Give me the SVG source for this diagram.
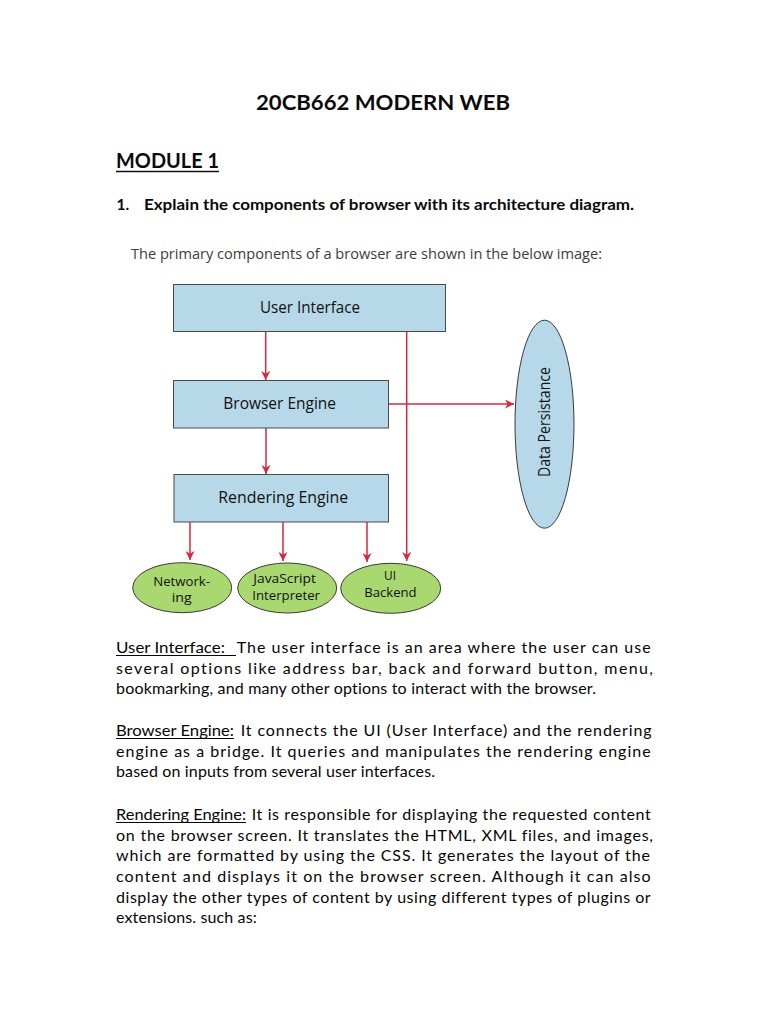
<svg xmlns="http://www.w3.org/2000/svg" width="768" height="1024" viewBox="0 0 768 1024">
<style>
text{font-variant-ligatures:none}
.h{font-family:Lato,"Open Sans","Liberation Sans",sans-serif;font-weight:bold;fill:#0a0a0a}
.b{font-family:Lato,"Open Sans","Liberation Sans",sans-serif;font-size:16px;fill:#050505}
.p{font-family:"Open Sans","Noto Sans","Liberation Sans",sans-serif;font-size:15px;fill:#3c3c3c}
.box{fill:#b6d8e8;stroke:#4a4a4a;stroke-width:1}
.ell{fill:#a9d770;stroke:#3a3a3a;stroke-width:1}
.ellb{fill:#b6d8e8;stroke:#3a3a3a;stroke-width:1}
.lbl{font-family:"Open Sans","Noto Sans","Liberation Sans",sans-serif;font-size:15.5px;fill:#111}
.sm{font-family:"Open Sans","Noto Sans","Liberation Sans",sans-serif;font-size:13px;fill:#111}
.c{stroke:#d7263d;stroke-width:1.5;fill:none}
.u{stroke:#050505;stroke-width:1}
</style>
<defs>
<marker id="ah" viewBox="0 0 10 10" refX="10" refY="5" markerWidth="9" markerHeight="9" markerUnits="userSpaceOnUse" orient="auto">
<path d="M0,0 L10,5 L0,10 L3,5 z" fill="#d7263d"/>
</marker>
</defs>
<rect width="768" height="1024" fill="#fff"/>

<g id="header">
<text class="h" x="256" y="110" font-size="20px" textLength="254" lengthAdjust="spacingAndGlyphs">20CB662 MODERN WEB</text>
<text class="h" x="116" y="168" font-size="20.5px" textLength="103" lengthAdjust="spacingAndGlyphs">MODULE 1</text>
<line x1="116" y1="171.5" x2="219" y2="171.5" stroke="#111" stroke-width="1.5"/>
<text class="h" x="116.5" y="210" font-size="15.5px">1.</text>
<text class="h" x="144" y="210" font-size="15.5px" textLength="490" lengthAdjust="spacingAndGlyphs">Explain the components of browser with its architecture diagram.</text>
<text class="p" x="131" y="259" textLength="471" lengthAdjust="spacingAndGlyphs">The primary components of a browser are shown in the below image:</text>
</g>

<g id="connectors">
<line class="c" x1="265.7" y1="332" x2="265.7" y2="380" marker-end="url(#ah)"/>
<line class="c" x1="266" y1="428" x2="266" y2="474" marker-end="url(#ah)"/>
<line class="c" x1="190" y1="522" x2="190" y2="560" marker-end="url(#ah)"/>
<line class="c" x1="283" y1="522" x2="283" y2="561" marker-end="url(#ah)"/>
<line class="c" x1="367" y1="522" x2="367" y2="562" marker-end="url(#ah)"/>
<line class="c" x1="406.7" y1="332" x2="406.7" y2="561" marker-end="url(#ah)"/>
<line class="c" x1="388" y1="404" x2="514" y2="404" marker-end="url(#ah)"/>
</g>

<g id="user-interface">
<rect class="box" x="173.5" y="284.5" width="272" height="47"/>
<text class="lbl" x="260" y="313.3" textLength="100" lengthAdjust="spacingAndGlyphs">User Interface</text>
</g>
<g id="browser-engine">
<rect class="box" x="173.5" y="380.5" width="215" height="47.5"/>
<text class="lbl" x="223.3" y="409.3" textLength="112.7" lengthAdjust="spacingAndGlyphs">Browser Engine</text>
</g>
<g id="rendering-engine">
<rect class="box" x="174" y="474.5" width="214.5" height="47.5"/>
<text class="lbl" x="218.3" y="502.7" textLength="130" lengthAdjust="spacingAndGlyphs">Rendering Engine</text>
</g>
<g id="data-persistance">
<ellipse class="ellb" cx="544.5" cy="424.2" rx="29.5" ry="104"/>
<text class="lbl" transform="translate(549.5,477) rotate(-90)" x="0" y="0" font-size="16.5px" textLength="110" lengthAdjust="spacingAndGlyphs">Data Persistance</text>
</g>
<g id="networking">
<ellipse class="ell" cx="182.2" cy="587.7" rx="49.5" ry="25"/>
<text class="sm" x="153.3" y="586" textLength="56.7" lengthAdjust="spacingAndGlyphs">Network-</text>
<text class="sm" x="171.7" y="602" textLength="20" lengthAdjust="spacingAndGlyphs">ing</text>
</g>
<g id="javascript-interpreter">
<ellipse class="ell" cx="287.2" cy="588" rx="49.5" ry="25"/>
<text class="sm" x="253.3" y="582.7" textLength="62.7" lengthAdjust="spacingAndGlyphs">JavaScript</text>
<text class="sm" x="252.3" y="600" textLength="67.7" lengthAdjust="spacingAndGlyphs">Interpreter</text>
</g>
<g id="ui-backend">
<ellipse class="ell" cx="390.7" cy="588.3" rx="50" ry="25"/>
<text class="sm" x="384" y="580" textLength="12" lengthAdjust="spacingAndGlyphs">UI</text>
<text class="sm" x="364.3" y="597.3" textLength="52.3" lengthAdjust="spacingAndGlyphs">Backend</text>
</g>

<g id="body-text">
<text class="b" x="116" y="653" textLength="109" lengthAdjust="spacingAndGlyphs">User Interface:</text>
<line class="u" x1="116" y1="655.5" x2="236" y2="655.5"/>
<text class="b" x="236.7" y="653" textLength="414" lengthAdjust="spacing">The user interface is an area where the user can use</text>
<text class="b" x="116" y="673.5" textLength="537" lengthAdjust="spacing">several options like address bar, back and forward button, menu,</text>
<text class="b" x="116" y="694" textLength="480" lengthAdjust="spacing">bookmarking, and many other options to interact with the browser.</text>

<text class="b" x="116" y="736" textLength="118" lengthAdjust="spacingAndGlyphs">Browser Engine:</text>
<line class="u" x1="116" y1="738.5" x2="234" y2="738.5"/>
<text class="b" x="240.7" y="736" textLength="411" lengthAdjust="spacing">It connects the UI (User Interface) and the rendering</text>
<text class="b" x="116" y="756.5" textLength="534.7" lengthAdjust="spacing">engine as a bridge. It queries and manipulates the rendering engine</text>
<text class="b" x="116" y="777" textLength="319" lengthAdjust="spacing">based on inputs from several user interfaces.</text>

<text class="b" x="116" y="820" textLength="130" lengthAdjust="spacingAndGlyphs">Rendering Engine:</text>
<line class="u" x1="116" y1="822.5" x2="246" y2="822.5"/>
<text class="b" x="251.7" y="820" textLength="399" lengthAdjust="spacing">It is responsible for displaying the requested content</text>
<text class="b" x="116" y="840.7" textLength="537" lengthAdjust="spacing">on the browser screen. It translates the HTML, XML files, and images,</text>
<text class="b" x="116" y="861" textLength="534" lengthAdjust="spacing">which are formatted by using the CSS. It generates the layout of the</text>
<text class="b" x="116" y="881.7" textLength="534.7" lengthAdjust="spacing">content and displays it on the browser screen. Although it can also</text>
<text class="b" x="116" y="902.7" textLength="534.7" lengthAdjust="spacing">display the other types of content by using different types of plugins or</text>
<text class="b" x="116" y="923.3" textLength="140.7" lengthAdjust="spacing">extensions. such as:</text>
</g>
</svg>
